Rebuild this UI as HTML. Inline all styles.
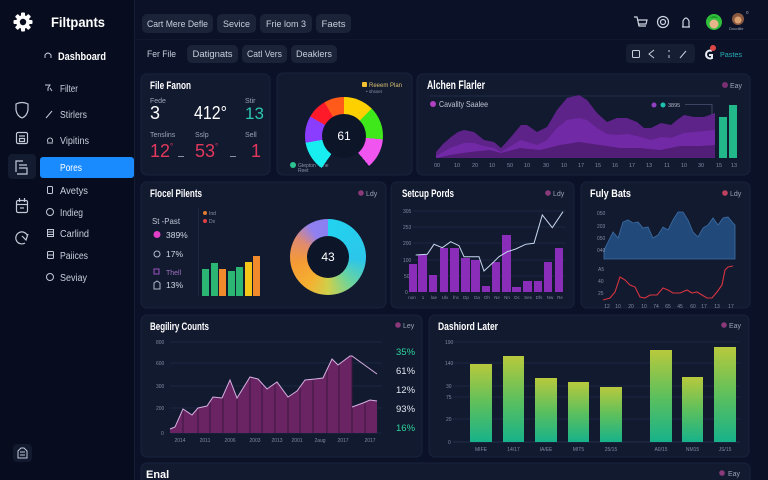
<!DOCTYPE html>
<html><head><meta charset="utf-8">
<style>
html,body{margin:0;padding:0;width:768px;height:480px;overflow:hidden;background:#0b1228;font-family:"Liberation Sans",sans-serif;}
svg{position:absolute;left:0;top:0}
.ring{position:absolute;border-radius:50%}
.hole{position:absolute;border-radius:50%;color:#fff;font-family:"Liberation Sans",sans-serif;font-size:12px;text-align:center}
</style></head><body>
<svg width="768" height="480" viewBox="0 0 768 480" font-family="Liberation Sans, sans-serif">
<defs>
<linearGradient id="gb" x1="0" y1="0" x2="0" y2="1"><stop offset="0" stop-color="#b8c93c"/><stop offset="0.5" stop-color="#5ec05c"/><stop offset="1" stop-color="#17b28a"/></linearGradient>
</defs>
<rect width="768" height="480" fill="#0b1228"/>
<rect width="134" height="480" fill="#070c1e"/>
<line x1="134.5" y1="0" x2="134.5" y2="480" stroke="#151d33"/>
<line x1="135" y1="39.5" x2="768" y2="39.5" stroke="#10182c"/>

<!-- logo -->
<g transform="translate(23,22)" fill="#fff">
<circle r="6.8"/>
<rect x="-2" y="-9.5" width="4" height="4" rx="1"/>
<rect x="-2" y="-9.5" width="4" height="4" rx="1" transform="rotate(45)"/>
<rect x="-2" y="-9.5" width="4" height="4" rx="1" transform="rotate(90)"/>
<rect x="-2" y="-9.5" width="4" height="4" rx="1" transform="rotate(135)"/>
<rect x="-2" y="-9.5" width="4" height="4" rx="1" transform="rotate(180)"/>
<rect x="-2" y="-9.5" width="4" height="4" rx="1" transform="rotate(225)"/>
<rect x="-2" y="-9.5" width="4" height="4" rx="1" transform="rotate(270)"/>
<rect x="-2" y="-9.5" width="4" height="4" rx="1" transform="rotate(315)"/>
<circle r="3.2" fill="#070c1e"/>
</g>
<text x="51" y="27" font-size="14" font-weight="bold" fill="#fff" textLength="54" lengthAdjust="spacingAndGlyphs">Filtpants</text>

<!-- left icon column -->
<g fill="none" stroke="#c3cad8" stroke-width="1.2">
<path d="M16,104 Q22,101 28,104 L28,110 Q27,116 22,118 Q17,116 16,110 Z"/>
<rect x="16.5" y="132.5" width="11" height="11" rx="1.5"/><line x1="19" y1="136" x2="25" y2="136"/><rect x="19.5" y="138.5" width="5" height="3"/>
</g>
<rect x="8" y="154" width="28" height="25" rx="4" fill="#131b30"/>
<g fill="none" stroke="#c3cad8" stroke-width="1.2">
<path d="M16,172 L16,161 L23,161 M19,165 L27,165 M19,168 L27,168 L27,174 L17,174"/>
<rect x="16.5" y="200.5" width="11" height="12" rx="1.5"/><line x1="16.5" y1="204.5" x2="27.5" y2="204.5"/><line x1="19.5" y1="198" x2="19.5" y2="202"/><line x1="24.5" y1="198" x2="24.5" y2="202"/><line x1="20" y1="208" x2="24" y2="208"/>
<path d="M27.5,236 A6,6 0 1 0 25,243"/><path d="M22,236 L26,240 L28,234"/>
</g>
<rect x="13" y="444" width="19" height="18" rx="4" fill="#121a2f"/>
<path d="M18,458 L18,451 L21,448 L24,448 L27,451 L27,458 Z M20,452 L25,452 M20,455 L25,455" fill="none" stroke="#c3cad8" stroke-width="1"/>

<!-- nav -->
<g fill="none" stroke="#c3cad8" stroke-width="1">
<path d="M45,58 L45,55 Q48,51 51,55 L51,58"/>
<path d="M45,85 L50,85 L48,88 L48,91 M50,88 L52,91"/>
<path d="M46,118 L52,111"/>
<path d="M47,143 L53,143 M48,142 A2.5,2.5 0 1 1 52,142"/>
<path d="M47,169 L50,165 L53,169" stroke="#fff"/>
<rect x="47.5" y="186.5" width="5" height="7" rx="1"/>
<circle cx="50" cy="212" r="3.5"/>
<rect x="47.5" y="229.5" width="6" height="7"/><line x1="48" y1="232" x2="53" y2="232"/><line x1="48" y1="234.5" x2="53" y2="234.5"/>
<rect x="47.5" y="251.5" width="6" height="7" rx="1"/><line x1="48" y1="255" x2="53" y2="255"/>
<circle cx="50" cy="277" r="3.5"/>
</g>
<text x="58" y="60" font-size="11" font-weight="bold" fill="#fff" textLength="48" lengthAdjust="spacingAndGlyphs">Dashboard</text>
<g font-size="10" fill="#c8cedb">
<text x="60" y="92" textLength="18" lengthAdjust="spacingAndGlyphs">Filter</text>
<text x="60" y="118" textLength="27" lengthAdjust="spacingAndGlyphs">Stirlers</text>
<text x="60" y="144" textLength="29" lengthAdjust="spacingAndGlyphs">Vipitins</text>
</g>
<rect x="40" y="157" width="94" height="21" rx="3" fill="#1a8bff"/>
<text x="60" y="171" font-size="10" fill="#fff" textLength="22" lengthAdjust="spacingAndGlyphs">Pores</text>
<g font-size="10" fill="#c8cedb">
<text x="60" y="194" textLength="28" lengthAdjust="spacingAndGlyphs">Avetys</text>
<text x="60" y="216" textLength="23" lengthAdjust="spacingAndGlyphs">Indieg</text>
<text x="60" y="237" textLength="29" lengthAdjust="spacingAndGlyphs">Carlind</text>
<text x="60" y="259" textLength="28" lengthAdjust="spacingAndGlyphs">Paiices</text>
<text x="60" y="281" textLength="27" lengthAdjust="spacingAndGlyphs">Seviay</text>
</g>

<!-- header pills -->
<g fill="#1a2338">
<rect x="142" y="14" width="71" height="19" rx="5"/>
<rect x="217" y="14" width="39" height="19" rx="5"/>
<rect x="260" y="14" width="52" height="19" rx="5"/>
<rect x="316" y="14" width="35" height="19" rx="5"/>
<rect x="187" y="45" width="51" height="18" rx="5"/>
<rect x="242" y="45" width="45" height="18" rx="5"/>
<rect x="291" y="45" width="46" height="18" rx="5"/>
</g>
<g font-size="9.5" fill="#c8cfdc" text-anchor="middle">
<text x="177.5" y="27" textLength="61" lengthAdjust="spacingAndGlyphs">Cart Mere Defle</text>
<text x="236.5" y="27" textLength="27" lengthAdjust="spacingAndGlyphs">Sevice</text>
<text x="286" y="27" textLength="40" lengthAdjust="spacingAndGlyphs">Frie lom 3</text>
<text x="333.5" y="27" textLength="24" lengthAdjust="spacingAndGlyphs">Faets</text>
<text x="161.5" y="57" textLength="29" lengthAdjust="spacingAndGlyphs">Fer File</text>
<text x="212.5" y="57" textLength="40" lengthAdjust="spacingAndGlyphs">Datignats</text>
<text x="264.5" y="57" textLength="35" lengthAdjust="spacingAndGlyphs">Catl Vers</text>
<text x="314" y="57" textLength="36" lengthAdjust="spacingAndGlyphs">Deaklers</text>
</g>

<!-- header right -->
<g fill="none" stroke="#d0d6e2" stroke-width="1.2">
<path d="M634,17 L637,17 L639,26 L646,26 M638,20 L647,20 L646,24 L639,24"/>
<circle cx="663" cy="22" r="5.5"/><circle cx="663" cy="22" r="2.5"/>
<path d="M682,27 L690,27 M683,27 L683,21 Q686,15 689,21 L689,27"/>
</g>
<circle cx="714" cy="22" r="8" fill="#2fbf3a"/>
<circle cx="714" cy="24" r="4.5" fill="#e8b58a"/>
<path d="M708,20 Q714,12 720,20 L718,18 L710,18 Z" fill="#1e9a28"/>
<circle cx="738" cy="19" r="6" fill="#8a5a40"/>
<circle cx="738" cy="20" r="3.5" fill="#d8a070"/>
<text x="746" y="14" font-size="4.5" fill="#aab">0</text>
<text x="729" y="30" font-size="4" fill="#a0a8b8">Doudilie</text>
<rect x="626" y="44" width="69" height="19" rx="4" fill="#151e33"/>
<g fill="none" stroke="#c8cfdc" stroke-width="1">
<rect x="632.5" y="50.5" width="7" height="7" rx="1"/>
<path d="M654,50 L649,54 L654,58 M649,54 L650,54"/>
<path d="M669,50 L669,52 M669,55 L669,58"/>
<path d="M680,58 L686,51"/>
</g>
<path d="M712,51 A4,4 0 1 0 712,58 L712,55 L709,55" fill="none" stroke="#e8ecf2" stroke-width="2"/>
<circle cx="713" cy="48" r="3" fill="#e04545"/>
<text x="720" y="57" font-size="7" fill="#2ab0b8" textLength="22" lengthAdjust="spacingAndGlyphs">Pastes</text>

<!-- cards -->
<g fill="#121a30" stroke="#19233b" stroke-width="1">
<rect x="141" y="74" width="129" height="101" rx="6"/>
<rect x="277" y="73" width="135" height="102" rx="6"/>
<rect x="417" y="74" width="333" height="101" rx="6"/>
<rect x="141" y="182" width="245" height="126" rx="6"/>
<rect x="391" y="182" width="183" height="126" rx="6"/>
<rect x="581" y="182" width="169" height="126" rx="6"/>
<rect x="141" y="315" width="281" height="142" rx="6"/>
<rect x="429" y="315" width="320" height="142" rx="6"/>
<rect x="141" y="463" width="609" height="30" rx="6"/>
</g>

<!-- Card A -->
<text x="150" y="89" font-size="11" font-weight="bold" fill="#fff" textLength="41" lengthAdjust="spacingAndGlyphs">File Fanon</text>
<g font-size="7" fill="#9aa3b5">
<text x="150" y="103">Fede</text>
<text x="245" y="103">Stir</text>
<text x="150" y="137">Tenslins</text>
<text x="195" y="137">Sslp</text>
<text x="245" y="137">Sell</text>
</g>
<text x="150" y="119" font-size="18" fill="#fff">3</text>
<text x="194" y="119" font-size="18" fill="#fff" textLength="33" lengthAdjust="spacingAndGlyphs">412°</text>
<text x="245" y="119" font-size="17" fill="#2cc5b0">13</text>
<g fill="#e2385c">
<text x="150" y="157" font-size="18">12<tspan font-size="8" dy="-8">°</tspan></text>
<text x="195" y="157" font-size="18">53<tspan font-size="8" dy="-8">°</tspan></text>
<text x="251" y="157" font-size="18">1</text>
</g>
<g stroke="#8890a0" stroke-width="1"><line x1="178" y1="156.5" x2="184" y2="156.5"/><line x1="230" y1="156.5" x2="236" y2="156.5"/></g>

<!-- Card B legends -->
<rect x="362" y="82" width="5" height="5" rx="1" fill="#f2c230"/>
<text x="369" y="87" font-size="6" fill="#d9c070">Reeem Plan</text>
<text x="366" y="93" font-size="4.5" fill="#8890a8">• shsset</text>
<circle cx="293" cy="165" r="3" fill="#2cc590"/>
<text x="298" y="167" font-size="5" fill="#8a93a8">Gtepton ·Fine</text>
<text x="298" y="172" font-size="5" fill="#8a93a8">Reet</text>

<!-- Card C -->
<text x="427" y="89" font-size="11.5" font-weight="bold" fill="#fff" textLength="58" lengthAdjust="spacingAndGlyphs">Alchen Flarler</text>
<circle cx="725" cy="85" r="3" fill="#7a3070"/>
<text x="730" y="88" font-size="7" fill="#9aa3b5">Eay</text>
<line x1="430" y1="96" x2="720" y2="96" stroke="#222c48"/>
<path d="M436,158 L436,152 L443,144 L451,137 L458,132 L464,130 L474,132 L484,140 L494,142 L501,148 L511,137 L521,125 L527,125 L537,132 L547,127 L557,110 L567,98 L579,95 L587,100 L597,113 L607,122 L617,118 L627,118 L637,122 L644,128 L651,128 L661,123 L671,125 L677,120 L684,115 L694,117 L704,117 L715,113 L715,158 Z" fill="#5d2388"/>
<path d="M436,158 L436,156 L450,148 L464,143 L474,143 L484,146 L494,148 L501,152 L511,146 L521,140 L537,145 L547,140 L557,128 L567,120 L579,118 L587,120 L597,128 L607,134 L617,135 L627,134 L637,136 L651,140 L661,137 L671,138 L684,133 L694,132 L704,131 L715,130 L715,158 Z" fill="#7229a6"/>
<path d="M436,158 L450,155 L470,152 L490,150 L501,153 L520,148 L540,150 L560,145 L579,142 L600,145 L620,148 L640,148 L660,150 L680,146 L700,146 L715,145 L715,158 Z" fill="#521e78"/>
<circle cx="433" cy="104" r="3" fill="#b040c0"/>
<text x="439" y="107" font-size="8.5" fill="#c0c6d6" textLength="49" lengthAdjust="spacingAndGlyphs">Cavality Saalee</text>
<circle cx="654" cy="105" r="2.5" fill="#9040c0"/>
<circle cx="663" cy="105" r="2.5" fill="#20c0b0"/>
<text x="668" y="107" font-size="5.5" fill="#b0b8c8">3895</text>
<path d="M685,104.5 L712,104.5 L712,115" fill="none" stroke="#4a5470" stroke-width="0.8"/>
<rect x="719" y="117" width="8" height="41" fill="#22b88a"/>
<rect x="729" y="105" width="8" height="53" fill="#22b88a"/>
<g font-size="5.5" fill="#8089a0" text-anchor="middle">
<text x="437" y="167">00</text><text x="457" y="167">10</text><text x="475" y="167">20</text><text x="492" y="167">10</text><text x="510" y="167">50</text><text x="527" y="167">10</text><text x="546" y="167">30</text><text x="564" y="167">10</text><text x="581" y="167">17</text><text x="598" y="167">15</text><text x="615" y="167">16</text><text x="632" y="167">17</text><text x="649" y="167">13</text><text x="667" y="167">11</text><text x="684" y="167">10</text><text x="701" y="167">30</text><text x="719" y="167">15</text><text x="734" y="167">13</text>
</g>

<!-- Card D -->
<text x="150" y="197" font-size="11" font-weight="bold" fill="#fff" textLength="52" lengthAdjust="spacingAndGlyphs">Flocel Pilents</text>
<circle cx="361" cy="193" r="2.8" fill="#8a3a7a"/>
<text x="366" y="196" font-size="7" fill="#9aa3b5">Ldy</text>
<text x="152" y="224" font-size="8" fill="#c0c6d6" textLength="28" lengthAdjust="spacingAndGlyphs">St -Past</text>
<circle cx="157" cy="234.5" r="3.5" fill="#e040c8"/>
<text x="166" y="238" font-size="8.5" fill="#d0d6e2">389%</text>
<circle cx="157" cy="254" r="3" fill="none" stroke="#b0b8c8" stroke-width="1"/>
<text x="166" y="257" font-size="8.5" fill="#d0d6e2">17%</text>
<rect x="154" y="269" width="5" height="5" fill="none" stroke="#9a50c0" stroke-width="1"/>
<text x="166" y="275" font-size="7" fill="#a070c0">Thell</text>
<path d="M154,289 L154,283 L157,281 L160,283 L160,289 Z" fill="none" stroke="#b0b8c8" stroke-width="1"/>
<text x="166" y="288" font-size="8.5" fill="#d0d6e2">13%</text>
<line x1="198.5" y1="208" x2="198.5" y2="296" stroke="#1d2740"/>
<circle cx="205" cy="213" r="2" fill="#e07a30"/><text x="209" y="215" font-size="5" fill="#8a93a8">Ind</text>
<circle cx="205" cy="221" r="2" fill="#e04040"/><text x="209" y="223" font-size="5" fill="#8a93a8">Dx</text>
<rect x="202" y="269" width="7" height="27" fill="#2bb673"/>
<rect x="211" y="263" width="7" height="33" fill="#2bb673"/>
<rect x="219" y="269" width="7" height="27" fill="#f08a2a"/>
<rect x="228" y="271" width="7" height="25" fill="#2bb673"/>
<rect x="236" y="267" width="7" height="29" fill="#2bb673"/>
<rect x="245" y="262" width="7" height="34" fill="#f5c518"/>
<rect x="253" y="256" width="7" height="40" fill="#f08a2a"/>

<!-- Card E -->
<text x="402" y="197" font-size="11" font-weight="bold" fill="#fff" textLength="52" lengthAdjust="spacingAndGlyphs">Setcup Pords</text>
<circle cx="548" cy="193" r="2.8" fill="#8a3a7a"/>
<text x="553" y="196" font-size="7" fill="#9aa3b5">Ldy</text>
<g stroke="#1f2a44" stroke-width="0.8">
<line x1="413" y1="211" x2="566" y2="211"/><line x1="413" y1="227" x2="566" y2="227"/><line x1="413" y1="243" x2="566" y2="243"/><line x1="413" y1="260" x2="566" y2="260"/><line x1="413" y1="276" x2="566" y2="276"/>
</g>
<g font-size="5" fill="#8089a0">
<text x="403" y="213">305</text><text x="403" y="229">253</text><text x="403" y="245">200</text><text x="403" y="262">100</text><text x="404" y="278">50</text><text x="405" y="294">0</text>
</g>
<g fill="#8a2db8">
<rect x="409" y="264" width="8" height="28"/>
<rect x="418" y="255" width="9" height="37"/>
<rect x="429" y="275" width="8" height="17"/>
<rect x="440" y="248" width="8" height="44"/>
<rect x="450" y="248" width="9" height="44"/>
<rect x="461" y="258" width="9" height="34"/>
<rect x="471" y="260" width="9" height="32"/>
<rect x="482" y="286" width="8" height="6"/>
<rect x="492" y="262" width="8" height="30"/>
<rect x="502" y="235" width="9" height="57"/>
<rect x="512" y="287" width="9" height="5"/>
<rect x="523" y="281" width="9" height="11"/>
<rect x="534" y="281" width="8" height="11"/>
<rect x="544" y="262" width="8" height="30"/>
<rect x="555" y="248" width="8" height="44"/>
</g>
<polyline points="415.7,255 427.3,254.3 434,244.3 442.3,247.7 450.7,241.7 459,245.7 464,256.7 479,256.7 484,271 492.3,263.3 499,256.7 507.3,251.7 515.7,249 525.7,244.3 534,243.3 542.3,215 552.3,227.7 563,211.7" fill="none" stroke="#c8d8f0" stroke-width="1"/>
<g font-size="4.5" fill="#8089a0" text-anchor="middle">
<text x="412" y="299">non</text><text x="423" y="299">1</text><text x="434" y="299">lae</text><text x="445" y="299">Ulx</text><text x="456" y="299">fnc</text><text x="466" y="299">Dp</text><text x="477" y="299">Da</text><text x="487" y="299">Dh</text><text x="497" y="299">Ne</text><text x="507" y="299">Nn</text><text x="517" y="299">Dc</text><text x="528" y="299">Ses</text><text x="539" y="299">Dfs</text><text x="550" y="299">Nw</text><text x="560" y="299">Re</text>
</g>

<!-- Card F -->
<text x="590" y="197" font-size="11" font-weight="bold" fill="#fff" textLength="41" lengthAdjust="spacingAndGlyphs">Fuly Bats</text>
<circle cx="725" cy="193" r="2.8" fill="#c04060"/>
<text x="730" y="196" font-size="7" fill="#9aa3b5">Ldy</text>
<path d="M604,259 L604,250 L608,242 L613,232 L618,238 L623,222 L628,220 L633,223 L638,222 L643,228 L648,227 L653,238 L658,235 L663,227 L668,230 L673,220 L678,212 L683,212 L688,220 L693,232 L698,237 L703,228 L708,225 L713,218 L718,225 L723,218 L728,217 L733,223 L735,225 L735,259 Z" fill="#21497a" stroke="#3d6ea6" stroke-width="0.8"/>
<polyline points="603,300 610,298 615,292 620,277 625,280 630,285 635,287 640,297 645,298 650,295 657,295 663,288 668,290 673,293 680,293 687,290 692,293 697,292 702,295 707,298 712,298 717,292 722,285 725,270 728,267 733,266" fill="none" stroke="#d8343f" stroke-width="1.1"/>
<g font-size="5" fill="#8089a0">
<text x="597" y="215">050</text><text x="597" y="228">203</text><text x="597" y="240">050</text><text x="597" y="252">040</text>
<text x="598" y="271">A5</text><text x="598" y="283">40</text><text x="598" y="295">25</text>
</g>
<g font-size="5" fill="#8089a0" text-anchor="middle">
<text x="607" y="308">12</text><text x="618" y="308">10</text><text x="631" y="308">20</text><text x="644" y="308">10</text><text x="656" y="308">74</text><text x="668" y="308">65</text><text x="680" y="308">45</text><text x="693" y="308">60</text><text x="704" y="308">17</text><text x="717" y="308">13</text><text x="731" y="308">17</text>
</g>

<!-- Card G -->
<text x="150" y="330" font-size="11" font-weight="bold" fill="#fff" textLength="59" lengthAdjust="spacingAndGlyphs">Begiliry Counts</text>
<circle cx="398" cy="325" r="2.8" fill="#8a3a7a"/>
<text x="403" y="328" font-size="7" fill="#9aa3b5">Ley</text>
<g stroke="#1f2a44" stroke-width="0.8">
<line x1="170" y1="342" x2="382" y2="342"/><line x1="170" y1="363" x2="382" y2="363"/><line x1="170" y1="386" x2="382" y2="386"/><line x1="170" y1="408" x2="382" y2="408"/><line x1="170" y1="433" x2="382" y2="433"/>
</g>
<g font-size="5" fill="#8089a0">
<text x="156" y="344">800</text><text x="156" y="365">600</text><text x="156" y="388">300</text><text x="156" y="410">200</text><text x="161" y="435">0</text>
</g>
<path d="M170,433 L170,429 L175,427 L183,409 L192,415 L198,408 L207,406 L213,397 L222,398 L230,380 L237,398 L250,377 L258,379 L267,389 L277,382 L288,397 L297,391 L305,380 L315,379 L323,378 L332,359 L338,365 L350,356 L352,356 L352,407 L363,403 L370,400 L377,401 L377,433 Z" fill="#6b2463"/>
<g stroke="#3a1840" stroke-width="1">
<line x1="183" y1="410" x2="183" y2="433"/><line x1="198" y1="409" x2="198" y2="433"/><line x1="210" y1="402" x2="210" y2="433"/><line x1="223" y1="398" x2="223" y2="433"/><line x1="237" y1="399" x2="237" y2="433"/><line x1="250" y1="378" x2="250" y2="433"/><line x1="262" y1="384" x2="262" y2="433"/><line x1="275" y1="383" x2="275" y2="433"/><line x1="288" y1="398" x2="288" y2="433"/><line x1="300" y1="387" x2="300" y2="433"/><line x1="313" y1="380" x2="313" y2="433"/><line x1="327" y1="370" x2="327" y2="433"/><line x1="339" y1="365" x2="339" y2="433"/><line x1="352" y1="357" x2="352" y2="433"/><line x1="365" y1="403" x2="365" y2="433"/>
</g>
<polyline points="170,429 175,427 183,409 192,415 198,408 207,406 213,397 222,398 230,380 237,398 250,377 258,379 267,389 277,382 288,397 297,391 305,380 315,379 323,378 332,359 338,365 350,356 352,356 377,374" fill="none" stroke="#d4b0e0" stroke-width="1"/>
<polyline points="352,407 363,403 370,400 377,401" fill="none" stroke="#d4b0e0" stroke-width="1"/>
<g font-size="9.5">
<text x="396" y="355" fill="#2ed39a">35%</text>
<text x="396" y="374" fill="#e0e4ee">61%</text>
<text x="396" y="393" fill="#e0e4ee">12%</text>
<text x="396" y="412" fill="#e0e4ee">93%</text>
<text x="396" y="431" fill="#2ed39a">16%</text>
</g>
<g font-size="5" fill="#8089a0" text-anchor="middle">
<text x="180" y="442">2014</text><text x="205" y="442">2011</text><text x="230" y="442">2006</text><text x="255" y="442">2003</text><text x="277" y="442">2013</text><text x="297" y="442">2001</text><text x="320" y="442">2aug</text><text x="343" y="442">2017</text><text x="370" y="442">2017</text>
</g>

<!-- Card H -->
<text x="438" y="330" font-size="11" font-weight="bold" fill="#fff" textLength="60" lengthAdjust="spacingAndGlyphs">Dashiord Later</text>
<circle cx="724" cy="325" r="2.8" fill="#8a3a7a"/>
<text x="729" y="328" font-size="7" fill="#9aa3b5">Eay</text>
<g stroke="#1f2a44" stroke-width="0.8">
<line x1="453" y1="342" x2="740" y2="342"/><line x1="453" y1="363" x2="740" y2="363"/><line x1="453" y1="386" x2="740" y2="386"/><line x1="453" y1="397" x2="740" y2="397"/><line x1="453" y1="419" x2="740" y2="419"/><line x1="453" y1="442" x2="740" y2="442" stroke="#2a3550"/>
</g>
<g font-size="5" fill="#8089a0">
<text x="445" y="344">190</text><text x="445" y="365">140</text><text x="446" y="388">30</text><text x="446" y="399">75</text><text x="446" y="421">20</text><text x="448" y="444">0</text>
</g>
<g fill="url(#gb)">
<rect x="470" y="364" width="22" height="78"/>
<rect x="503" y="356" width="21" height="86"/>
<rect x="535" y="378" width="22" height="64"/>
<rect x="568" y="382" width="21" height="60"/>
<rect x="600" y="387" width="22" height="55"/>
<rect x="650" y="350" width="22" height="92"/>
<rect x="682" y="377" width="21" height="65"/>
<rect x="714" y="347" width="22" height="95"/>
</g>
<g font-size="5" fill="#8089a0" text-anchor="middle">
<text x="481" y="451">MIFE</text><text x="513.5" y="451">14/17</text><text x="546" y="451">IA/EE</text><text x="578.5" y="451">MIT5</text><text x="611" y="451">25/15</text><text x="661" y="451">A0/15</text><text x="692.5" y="451">NM15</text><text x="725" y="451">JS/15</text>
</g>

<!-- Card I -->
<text x="146" y="478" font-size="11" font-weight="bold" fill="#fff">Enal</text>
<circle cx="722" cy="473" r="2.8" fill="#8a3a7a"/>
<text x="728" y="476" font-size="7" fill="#9aa3b5">Eay</text>
</svg>

<div class="ring" style="left:305px;top:97px;width:78px;height:78px;background:conic-gradient(from 215deg,#18eef0 0deg 45deg,#8a3cff 45deg 85deg,#ff1a2a 85deg 115deg,#ff5a1a 115deg 145deg,#ffd000 145deg 190deg,#3ee81a 190deg 240deg,#f055f0 240deg 285deg,transparent 285deg 360deg);"></div>
<div class="hole" style="left:322px;top:114px;width:44px;height:44px;line-height:44px;background:#0d1529;">61</div>

<div class="ring" style="left:290px;top:219px;width:76px;height:76px;background:conic-gradient(from 0deg,#22d3f0 0deg,#2cc6ea 95deg,#6fd49a 140deg,#cfd04a 180deg,#f5b030 215deg,#f59a35 260deg,#e08a70 300deg,#9080f0 330deg,#8a7ff2 360deg);"></div>
<div class="hole" style="left:307px;top:236px;width:42px;height:42px;line-height:42px;background:#0d1529;">43</div>
</body></html>
